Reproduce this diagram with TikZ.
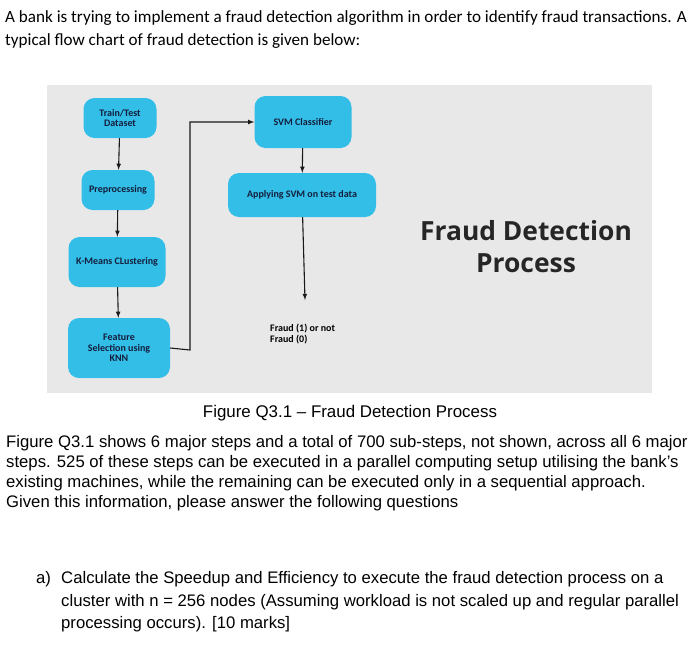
\documentclass[tikz,border=0pt]{standalone}
\usepackage{fontspec}
\setmainfont{Liberation Sans}
\newfontfamily\calib{Carlito}
\newfontfamily\opens{Open Sans}
\begin{document}
\begin{tikzpicture}[x=1pt,y=-1pt,
  box/.style={draw=none,fill={rgb,255:red,51;green,190;blue,232},rounded corners=11pt,font=\calib\bfseries\fontsize{10}{10.5}\selectfont,text={rgb,255:red,20;green,30;blue,60},align=center,inner sep=1pt},
  arr/.style={-latex,line width=1.1pt,black!90},
  ln/.style={anchor=base west,inner sep=0,font=\fontsize{16.7}{18}\selectfont}]
\useasboundingbox (0,0) rectangle (697,649);
\fill[white] (0,0) rectangle (697,649);
\fill[black!9] (47,85) rectangle (652,393);
\node[ln,font=\calib\fontsize{17.1}{19}\selectfont] (t1) at (5,22) {A bank is trying to implement a fraud detection algorithm in order to identify fraud transactions. A};
\node[ln,font=\calib\fontsize{17.1}{19}\selectfont] (t2) at (5,45) {typical flow chart of fraud detection is given below:};
\node[box,minimum width=73,minimum height=40] (a) at (120,118) {Train/Test\\Dataset};
\node[box,minimum width=73,minimum height=40] (b) at (118,190) {Preprocessing};
\node[box,minimum width=97,minimum height=50] (c) at (117,262) {K-Means CLustering};
\node[box,minimum width=102,minimum height=60] (d) at (119,348) {Feature\\Selection using\\KNN};
\node[box,minimum width=97,minimum height=52] (e) at (303,122) {SVM Classifier};
\node[box,minimum width=148,minimum height=44] (f) at (302,195) {Applying SVM on test data};
\coordinate (g) at (305,300);
\node[font=\calib\bfseries\fontsize{10}{10.5}\selectfont,align=left,anchor=north west,inner sep=0] (h) at (270,324) {Fraud (1) or not\\Fraud (0)};
\draw[arr] (a) -- (b);
\draw[arr] (b) -- (c);
\draw[arr] (c) -- (d);
\draw[arr] (d.east) -- (190,350) -- (190,122) -- (e.west);
\draw[arr] (e) -- (f);
\draw[arr] (f) -- (g);
\node[font=\opens\bfseries\fontsize{26.4}{32}\selectfont,align=center,text=black!85] (big) at (526,247) {Fraud Detection\\Process};
\node[font=\fontsize{16.9}{18}\selectfont] (cap) at (350,413) {Figure Q3.1 -- Fraud Detection Process};
\node[ln] (p1) at (6,447) {Figure Q3.1 shows 6 major steps and a total of 700 sub-steps, not shown, across all 6 major};
\node[ln] (p2) at (6,467) {steps. 525 of these steps can be executed in a parallel computing setup utilising the bank's};
\node[ln] (p3) at (6,487) {existing machines, while the remaining can be executed only in a sequential approach.};
\node[ln] (p4) at (6,507) {Given this information, please answer the following questions};
\node[ln] (q0) at (36,583) {a)};
\node[ln] (q1) at (61,583) {Calculate the Speedup and Efficiency to execute the fraud detection process on a};
\node[ln] (q2) at (61,606) {cluster with n = 256 nodes (Assuming workload is not scaled up and regular parallel};
\node[ln] (q3) at (61,628) {processing occurs). [10 marks]};
\end{tikzpicture}
\end{document}
